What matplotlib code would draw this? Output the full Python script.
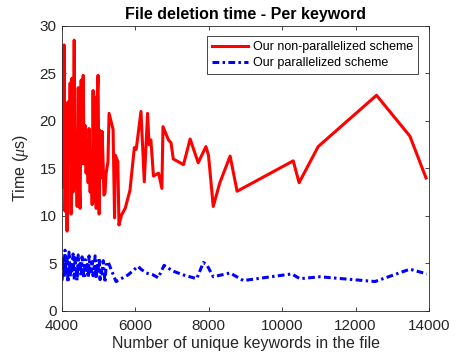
import matplotlib
matplotlib.use("Agg")
import matplotlib.pyplot as plt

# ---- data ----
red_x = [4000, 4030, 4055, 4080, 4110, 4135, 4160, 4190, 4220, 4245, 4270, 4300,
         4330, 4355, 4380, 4410, 4440, 4465, 4490, 4520, 4545, 4575, 4600, 4630,
         4655, 4680, 4710, 4735, 4765, 4790, 4820, 4845, 4875, 4900, 4930, 4955,
         4980, 5010, 5035, 5065, 5090, 5120, 5140, 5170, 5200, 5250, 5280, 5390,
         5430, 5450, 5520, 5550, 5620, 5720, 5850, 5970, 6020, 6150, 6240, 6330,
         6370, 6420, 6490, 6630, 6720, 6750, 6900, 6970, 7030, 7310, 7490, 7710,
         7920, 7990, 8120, 8300, 8580, 8770, 10300, 10460, 10980, 12570, 13480, 13920]
red_y = [23.5, 13.0, 28.0, 10.5, 20.0, 8.4, 22.0, 16.0, 24.0, 10.2, 24.5, 12.5,
         28.5, 13.0, 18.0, 11.0, 23.5, 14.0, 10.8, 24.3, 15.5, 24.8, 15.5, 19.5,
         14.5, 18.0, 13.5, 19.2, 12.5, 17.0, 11.2, 23.2, 11.5, 22.5, 10.8, 22.0,
         24.8, 10.2, 19.0, 14.0, 18.9, 15.4, 12.2, 12.4, 14.5, 15.7, 20.8, 19.1,
         9.8, 16.4, 15.7, 9.05, 10.1, 10.8, 12.7, 17.2, 17.0, 21.0, 13.6, 20.8,
         17.5, 18.0, 14.2, 14.5, 12.9, 19.4, 18.0, 17.7, 16.0, 15.4, 18.1, 15.6,
         17.3, 16.4, 11.0, 13.5, 16.3, 12.6, 15.8, 13.5, 17.3, 22.7, 18.4, 14.0]

blue_x = [4000, 4030, 4055, 4080, 4110, 4135, 4160, 4190, 4220, 4245, 4270, 4300,
          4330, 4355, 4380, 4410, 4440, 4465, 4490, 4520, 4545, 4575, 4600, 4630,
          4655, 4680, 4710, 4735, 4765, 4790, 4820, 4845, 4875, 4900, 4930, 4955,
          4980, 5010, 5035, 5065, 5090, 5120, 5140, 5170, 5200, 5250, 5470, 5800,
          6070, 6150, 6290, 6480, 6620, 6780, 6940, 7020, 7300, 7670, 7850, 7940,
          8120, 8580, 8940, 10260, 10480, 11030, 12530, 13480, 13940]
blue_y = [3.2, 5.8, 3.5, 6.4, 4.0, 5.5, 3.0, 6.2, 3.6, 5.0, 4.2, 6.0,
          3.3, 5.6, 4.4, 3.2, 5.9, 4.1, 5.0, 3.6, 5.7, 4.3, 3.4, 5.4,
          4.0, 4.9, 3.5, 5.8, 4.2, 3.9, 5.2, 3.7, 4.6, 5.8, 3.4, 4.8,
          4.2, 5.6, 3.3, 4.5, 3.9, 5.3, 4.4, 3.0, 4.8, 5.2, 3.1, 3.8,
          4.7, 4.4, 4.0, 3.8, 3.5, 4.8, 4.4, 4.2, 3.8, 3.4, 5.1, 4.9,
          3.6, 4.0, 3.2, 3.9, 3.4, 3.6, 3.1, 4.4, 3.9]

x_ticks = [4000, 6000, 8000, 10000, 12000, 14000]
y_ticks = [0, 5, 10, 15, 20, 25, 30]

plt.rcParams['font.family'] = ['Liberation Sans', 'DejaVu Sans']
plt.rcParams['mathtext.fontset'] = 'custom'
plt.rcParams['mathtext.it'] = 'Liberation Serif:italic'

fig = plt.figure(figsize=(4.74, 3.55), dpi=100)
ax = fig.add_axes([0.131, 0.124, 0.774, 0.803])

ax.plot(red_x, red_y, color='#ff0000', lw=2.2, label='Our non-parallelized scheme')
ax.plot(blue_x, blue_y, color='#0000ff', lw=2.2, ls='-.', dashes=(2.2, 1.1, 0.8, 1.1),
        label='Our parallelized scheme')

ax.set_xlim(4000, 14000)
ax.set_ylim(0, 30)
ax.set_xticks(x_ticks)
ax.set_yticks(y_ticks)
ax.tick_params(direction='in', top=True, right=True, length=3, width=0.6,
               labelsize=11, colors='#262626', pad=4)
ax.tick_params(axis='x', pad=6)
for s in ax.spines.values():
    s.set_color('#262626')
    s.set_linewidth(0.6)

ax.set_title('File deletion time - Per keyword', fontsize=11.5, fontweight='bold',
             color='#000000', pad=5)
ax.set_xlabel('Number of unique keywords in the file', fontsize=11.5, color='#262626',
              labelpad=2)
ax.set_ylabel(r'Time ($\mu$s)', fontsize=11.5, color='#262626', labelpad=6)

leg = ax.legend(loc='upper right', bbox_to_anchor=(0.97, 0.965), fontsize=9,
                frameon=True, fancybox=False, framealpha=1, edgecolor='#262626',
                handlelength=2.9, borderpad=0.4, labelspacing=0.35, handletextpad=0.4,
                borderaxespad=0)
leg.get_frame().set_linewidth(0.6)

fig.savefig('out.png', dpi=100)
